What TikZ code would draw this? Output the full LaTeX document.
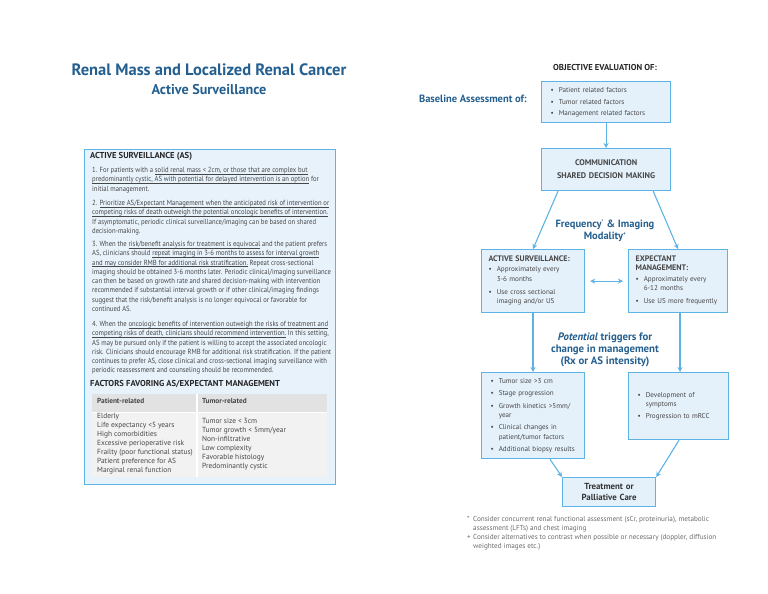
\documentclass[tikz,border=0pt]{standalone}
\usepackage{fontspec}
\setmainfont{PT Sans}
\newfontfamily\condfont{PT Sans}
\newfontfamily\narrowfont{PT Sans}[FakeStretch=0.9]
\usetikzlibrary{arrows.meta, positioning, calc}
\definecolor{titleblue}{HTML}{245F8F}
\definecolor{boxfill}{HTML}{E4F0FA}
\definecolor{boxline}{HTML}{5DB3E4}
\definecolor{bodygray}{HTML}{474747}
\definecolor{notegray}{HTML}{6A6A6A}
\definecolor{headgray}{HTML}{E2E2E2}
\definecolor{cellgray}{HTML}{F2F2F2}
\definecolor{panelfill}{HTML}{E8F2FB}
\newcommand{\uln}[1]{\leavevmode\setbox0\hbox{#1}\rlap{\rule[-1.7pt]{\wd0}{0.5pt}}\box0\relax}
\newcommand{\blist}[1]{\begin{tabular}{@{}l@{\hspace{5pt}}l@{}}#1\end{tabular}}
\tikzset{
    flowbox/.style={
        rectangle, draw=boxline, fill=boxfill, line width=1.2pt,
        anchor=north west, inner xsep=7pt, inner ysep=0pt, align=left,
        font=\condfont\fontsize{7.1}{9.3}\selectfont, text=bodygray
    },
    panel/.style={
        rectangle, draw=boxline, fill=panelfill, line width=1.2pt,
        anchor=north west, inner sep=0pt
    },
    paratext/.style={
        anchor=north west, inner sep=0pt, align=left,
        font=\narrowfont\fontsize{7.4}{9.3}\selectfont, text=bodygray
    },
    heading/.style={
        anchor=north west, inner sep=0pt,
        font=\condfont\bfseries\fontsize{8.6}{9}\selectfont, text=black!85
    },
    bluelabel/.style={
        inner sep=0pt, align=center, text=titleblue,
        font=\bfseries\fontsize{10.5}{12}\selectfont
    },
    arrow/.style={
        -{Stealth[length=5pt, width=5pt]}, line width=1.1pt, draw=boxline
    }
}

\begin{document}
\begin{tikzpicture}[x=1pt, y=-1pt]
    \useasboundingbox (0,0) rectangle (768,594);

    % titles
    \node[text=titleblue, font=\bfseries\fontsize{16.5}{18}\selectfont] (title) at (209,70) {Renal Mass and Localized Renal Cancer};
    \node[text=titleblue, font=\bfseries\fontsize{14.2}{16}\selectfont] (subtitle) at (209,90) {Active Surveillance};

    % left panel
    \node[panel, minimum width=251pt, minimum height=335pt] (panel) at (84,149) {};
    \node[heading] (ashead) at (90,152) {ACTIVE SURVEILLANCE (AS)};
    \node[paratext] (p1) at (92,167) {1. For patients with a \uln{solid renal mass < 2cm, or those that are complex but}\\
        \uln{predominantly cystic, AS with potential for delayed intervention is an option} for\\
        initial management.};
    \node[paratext] (p2) at (92,200) {2. \uln{Prioritize AS/Expectant Management when the anticipated risk of intervention or}\\
        \uln{competing risks of death outweigh the potential oncologic benefits of intervention.}\\
        If asymptomatic, periodic clinical surveillance/imaging can be based on shared\\
        decision-making.};
    \node[paratext] (p3) at (92,241) {3. When the \uln{risk/benefit analysis for treatment is equivocal} and the patient prefers\\
        AS, clinicians should \uln{repeat imaging in 3-6 months to assess for interval growth}\\
        \uln{and may consider RMB for additional risk stratification.} Repeat cross-sectional\\
        imaging should be obtained 3-6 months later. Periodic clinical/imaging surveillance\\
        can then be based on growth rate and shared decision-making with intervention\\
        recommended if substantial interval growth or if other clinical/imaging findings\\
        suggest that the risk/benefit analysis is no longer equivocal or favorable for\\
        continued AS.};
    \node[paratext] (p4) at (92,321) {4. When the \uln{oncologic benefits of intervention outweigh the risks of treatment and}\\
        \uln{competing risks of death, clinicians should recommend intervention.} In this setting,\\
        AS may be pursued only if the patient is willing to accept the associated oncologic\\
        risk. Clinicians should encourage RMB for additional risk stratification. If the patient\\
        continues to prefer AS, close clinical and cross-sectional imaging surveillance with\\
        periodic reassessment and counseling should be recommended.};
    \node[heading] (facthead) at (90,380) {FACTORS FAVORING AS/EXPECTANT MANAGEMENT};

    % factors table
    \node[fill=headgray, anchor=north west, minimum width=235pt, minimum height=18pt, inner sep=0pt] (thead) at (92,394) {};
    \node[fill=cellgray, anchor=north west, minimum width=235pt, minimum height=65pt, inner sep=0pt] (tbody) at (92,412) {};
    \draw[white, line width=1.2pt] ([xshift=105pt]thead.north west) -- ([xshift=105pt]tbody.south west);
    \draw[white, line width=1.2pt] (thead.south west) -- (thead.south east);
    \node[paratext, font=\condfont\bfseries\fontsize{7.3}{9}\selectfont] (pathead) at (97,398) {Patient-related};
    \node[paratext, font=\condfont\bfseries\fontsize{7.3}{9}\selectfont] (tumhead) at (202,398) {Tumor-related};
    \node[paratext, font=\condfont\fontsize{7.4}{9}\selectfont] (patlist) at (97,413) {Elderly\\
        Life expectancy <5 years\\
        High comorbidities\\
        Excessive perioperative risk\\
        Frailty (poor functional status)\\
        Patient preference for AS\\
        Marginal renal function};
    \node[paratext, font=\condfont\fontsize{7.4}{9}\selectfont] (tumlist) at (202,418) {Tumor size < 3cm\\
        Tumor growth < 5mm/year\\
        Non-infiltrative\\
        Low complexity\\
        Favorable histology\\
        Predominantly cystic};

    % right flow
    \node[heading, font=\condfont\bfseries\fontsize{8.6}{9}\selectfont, anchor=center] (objhead) at (605,67) {OBJECTIVE EVALUATION OF:};
    \node[bluelabel, anchor=east] (baseline) at (527,99) {Baseline Assessment of:};
    \node[flowbox, inner xsep=9pt, text width=111pt, minimum height=41pt,
          font=\condfont\fontsize{7.1}{11.5}\selectfont] (obj) at (541,81)
        {\blist{\textbullet & Patient related factors\\
                \textbullet & Tumor related factors\\
                \textbullet & Management related factors}};
    \node[flowbox, align=center, text width=115pt, minimum height=42pt,
          font=\condfont\bfseries\fontsize{8.2}{13}\selectfont] (comm) at (541,148)
        {COMMUNICATION\\SHARED DECISION MAKING};
    \node[bluelabel] (freq) at (605,231) {Frequency\textsuperscript{\tiny *} \& Imaging\\Modality\textsuperscript{\tiny +}};

    \node[flowbox, text width=89pt, minimum height=63pt] (as) at (481,249)
        {{\bfseries\fontsize{8}{10}\selectfont ACTIVE SURVEILLANCE:}\\[3pt]
         \blist{\textbullet & Approximately every\\
                & 3-6 months\\[4pt]
                \textbullet & Use cross sectional\\
                & imaging and/or US}};
    \node[flowbox, text width=85pt, minimum height=63pt] (em) at (628,249)
        {{\bfseries\fontsize{8}{10}\selectfont EXPECTANT\\MANAGEMENT:}\\[3pt]
         \blist{\textbullet & Approximately every\\
                & 6-12 months\\[4pt]
                \textbullet & Use US more frequently}};
    \node[bluelabel, font=\bfseries\fontsize{10.8}{12}\selectfont] (trigger) at (605,350)
        {\textit{Potential} triggers for\\change in management\\(Rx or AS intensity)};

    \node[flowbox, inner xsep=9pt, text width=85pt, minimum height=86pt] (trig) at (481,372)
        {\blist{\textbullet & Tumor size >3 cm\\[3pt]
                \textbullet & Stage progression\\[3pt]
                \textbullet & Growth kinetics >5mm/\\
                & year\\[3pt]
                \textbullet & Clinical changes in\\
                & patient/tumor factors\\[3pt]
                \textbullet & Additional biopsy results}};
    \node[flowbox, inner xsep=9pt, text width=82pt, minimum height=67pt] (symp) at (628,372)
        {\blist{\textbullet & Development of\\
                & symptoms\\[3pt]
                \textbullet & Progression to mRCC}};
    \node[flowbox, align=center, inner xsep=4pt, text width=85pt, minimum height=29pt,
          font=\condfont\bfseries\fontsize{8.8}{11.5}\selectfont, text=black!80] (treat) at (562,477)
        {Treatment or\\Palliative Care};

    % connectors
    \draw[arrow] (obj) -- (comm);
    \draw[arrow] ([xshift=17pt]comm.south west) -- ([xshift=52pt]as.north west);
    \draw[arrow] ([xshift=-18pt]comm.south east) -- ([xshift=50pt]em.north west);
    \draw[arrow, {Stealth[length=5pt, width=5pt]}-{Stealth[length=5pt, width=5pt]}] ([xshift=5pt]as.east) -- ([xshift=-5pt]em.west);
    \draw[arrow] ([xshift=52pt]as.south west) -- ([xshift=52pt]trig.north west);
    \draw[arrow] ([xshift=52pt]em.south west) -- ([xshift=52pt]symp.north west);
    \draw[arrow] ([xshift=69pt]trig.south west) -- (treat.north west);
    \draw[arrow] ([xshift=51pt]symp.south west) -- (treat.north east);

    % footnotes
    \node[paratext, text=notegray, font=\condfont\fontsize{7.2}{9}\selectfont] (notes) at (467,516)
        {\makebox[6pt][l]{*}Consider concurrent renal functional assessment (sCr, proteinuria), metabolic\\
         \makebox[6pt][l]{}assessment (LFTs) and chest imaging\\
         \makebox[6pt][l]{+}Consider alternatives to contrast when possible or necessary (doppler, diffusion\\
         \makebox[6pt][l]{}weighted images etc.)};

\end{tikzpicture}
\end{document}
